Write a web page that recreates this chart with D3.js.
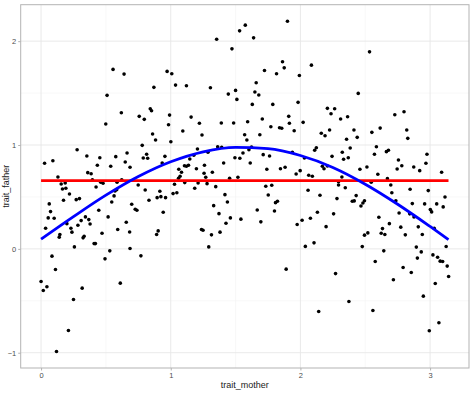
<!DOCTYPE html>
<html>
<head>
<meta charset="utf-8">
<script src="https://cdn.jsdelivr.net/npm/d3@7"></script>
<style>
  body { margin: 0; background: #fff; }
  #graph { width: 474px; height: 395px; }
  text { font-family: "Liberation Sans", Arial, sans-serif; }
</style>
</head>
<body>
<div id="graph"></div>
<script>
// scatter data
var motherX = [
0.555,0.640,0.509,0.619,0.499,1.354,1.531,1.472,0.972,1.008,0.870,1.037,1.121,1.306,1.444,1.500,1.510,0.842,0.852,0.757,
0.796,0.991,1.157,0.983,1.221,1.390,1.485,1.575,1.639,1.900,1.862,1.875,1.723,1.816,1.992,2.085,1.659,1.649,1.679,1.629,
1.787,1.982,2.208,2.264,2.236,2.310,2.364,1.593,1.706,1.910,1.915,2.021,2.533,2.446,2.728,2.799,0.278,0.027,0.091,0.353,
0.453,0.434,0.537,0.576,0.663,0.649,0.686,0.360,0.386,0.396,0.130,0.155,0.186,0.165,0.191,0.219,0.173,0.271,0.296,0.424,
0.460,0.478,0.586,0.622,0.570,0.583,0.563,0.545,0.063,0.073,0.055,0.101,0.035,0.199,0.230,0.238,0.284,0.309,0.342,0.368,
0.378,0.445,0.517,0.145,0.140,0.332,0.324,0.470,0.591,0.657,0.683,0.699,0.409,0.419,0.257,1.093,0.860,0.883,0.780,1.001,
1.241,0.788,0.814,0.822,0.955,0.934,1.206,1.178,1.147,1.137,1.121,1.106,1.062,1.083,1.072,1.060,1.287,1.362,1.393,1.260,
1.198,1.257,1.270,1.321,1.408,1.495,1.533,1.454,1.518,0.749,0.803,1.029,1.108,1.211,1.185,1.280,1.347,0.916,0.924,0.895,
0.960,1.018,1.047,0.832,0.726,0.739,0.942,1.418,1.437,1.331,1.372,1.460,1.426,1.541,1.237,1.249,1.380,1.314,0.903,0.891,
1.293,1.772,1.839,1.856,1.952,1.570,1.587,1.687,2.161,2.190,2.225,2.356,1.557,1.603,1.623,1.613,1.713,1.762,1.741,1.846,
1.882,1.938,2.031,1.998,1.967,2.064,2.092,2.110,2.123,2.169,2.182,2.208,2.244,2.323,2.333,2.384,2.369,2.320,2.294,2.294,
2.346,1.733,1.779,1.752,2.059,2.151,2.282,1.823,1.808,1.667,1.800,2.131,2.256,1.695,1.975,2.013,2.077,2.198,2.038,2.105,
2.413,2.438,2.551,2.615,2.820,2.828,2.586,2.571,2.663,2.679,2.756,2.782,2.746,2.874,2.920,2.976,2.968,3.089,2.459,2.513,
2.597,2.671,2.546,2.697,2.705,2.846,2.986,3.115,2.430,2.415,2.400,2.494,2.482,2.467,2.736,2.863,2.958,3.051,3.101,3.002,
3.012,2.761,2.843,2.876,2.605,2.686,2.633,2.774,2.909,3.032,2.520,2.494,2.623,2.651,2.809,2.940,2.477,2.894,3.124,0.084,
0.111,0.000,0.017,0.045,0.317,0.250,0.211,0.119,0.493,0.530,0.686,0.611,0.770,1.890,2.271,2.141,2.374,2.643,2.577,2.932,
2.902,3.022,3.058,3.078,3.097,3.132,3.143,2.792,2.855,2.717,3.040,2.948,2.559,3.068,2.994
]
var fatherY = [
1.728,1.683,1.478,1.311,1.202,2.019,2.099,1.926,1.709,1.686,1.555,1.577,1.570,1.551,1.490,1.526,1.439,1.349,1.330,1.276,
1.247,1.288,1.269,1.195,1.209,1.212,1.212,2.154,2.032,2.192,1.801,1.743,1.718,1.686,1.670,1.769,1.599,1.510,1.481,1.391,
1.391,1.411,1.353,1.349,1.301,1.250,1.272,1.224,1.250,1.276,1.209,1.218,1.897,1.497,1.291,1.320,0.955,0.824,0.849,0.894,
0.878,0.805,0.795,0.888,0.923,0.837,0.786,0.734,0.724,0.666,0.692,0.625,0.635,0.577,0.584,0.529,0.468,0.474,0.484,0.596,
0.641,0.632,0.641,0.666,0.558,0.570,0.510,0.452,0.433,0.359,0.298,0.295,0.199,0.243,0.199,0.161,0.228,0.272,0.308,0.282,
0.240,0.372,0.308,0.138,0.113,0.122,0.106,0.151,0.186,0.257,0.163,0.430,0.051,0.051,0.019,1.135,1.106,1.048,0.997,1.032,
1.096,0.875,0.911,0.872,0.891,0.827,0.962,0.901,0.865,0.805,0.795,0.801,0.766,0.738,0.699,0.680,0.930,0.984,0.978,0.805,
0.772,0.728,0.689,0.738,0.827,0.878,0.873,0.680,0.689,0.615,0.567,0.622,0.638,0.635,0.584,0.628,0.599,0.555,0.503,0.493,
0.493,0.532,0.541,0.468,0.382,0.372,0.353,0.522,0.452,0.416,0.339,0.298,0.247,0.286,0.186,0.180,0.161,0.135,0.173,0.138,
0.019,1.176,1.166,1.161,1.138,1.099,1.048,1.099,1.113,1.089,1.144,1.055,0.923,0.955,0.981,0.827,0.907,0.894,0.766,0.772,
0.786,0.930,0.875,0.753,0.721,0.709,0.699,0.949,0.974,0.795,0.772,0.798,0.891,0.930,0.863,0.971,0.878,0.692,0.647,0.615,
0.589,0.603,0.613,0.519,0.564,0.516,0.484,0.459,0.445,0.375,0.365,0.353,0.337,0.260,0.234,0.276,0.295,0.214,0.024,0.058,
1.144,1.074,1.122,1.163,1.144,1.064,0.984,0.911,0.936,0.949,0.856,0.801,0.769,0.788,0.753,0.911,0.824,0.738,0.766,0.788,
0.718,0.676,0.641,0.615,0.541,0.574,0.561,0.500,0.513,0.462,0.459,0.464,0.442,0.413,0.464,0.436,0.433,0.433,0.404,0.378,
0.356,0.346,0.337,0.308,0.305,0.243,0.195,0.209,0.212,0.199,0.154,0.132,0.151,0.138,0.135,0.138,0.022,0.017,0.023,-0.070,
-0.199,-0.314,-0.401,-0.365,-0.378,-0.488,-0.786,-0.988,-0.096,-0.019,0.003,-0.330,-0.067,-0.195,-0.238,-0.603,-0.507,-0.019,-0.122,-0.029,
-0.089,-0.058,-0.080,-0.118,-0.122,-0.166,-0.266,-0.180,-0.228,-0.298,-0.334,-0.455,-0.593,-0.712,-0.788
]

// fitted lines
var fitX = [0, 0.25, 0.5, 0.75, 1, 1.25, 1.5, 1.75, 2, 2.25, 2.5, 2.75, 3, 3.142]
var fitBlue = [0.093, 0.31, 0.517, 0.697, 0.839, 0.935, 0.978, 0.965, 0.899, 0.784, 0.623, 0.43, 0.216, 0.09]
var fitRed = 0.657

var xTicks = [0, 1, 2, 3]
var yTicks = [-1, 0, 1, 2]
var xMinor = [0.5, 1.5, 2.5]
var yMinor = [-0.5, 0.5, 1.5]

var data = motherX.map((d, i) => [d, fatherY[i]])

const width = 474, height = 395
const panel = { left: 20.7, right: 469, top: 4.7, bottom: 368 }

const svg = d3.select("#graph")
    .append("svg")
        .attr("width", width)
        .attr("height", height)

// ggplot style 5% expansion
var xe = d3.extent(motherX), ye = d3.extent(fatherY)
var xpad = (xe[1] - xe[0]) * 0.05, ypad = (ye[1] - ye[0]) * 0.05

const x = d3.scaleLinear().domain([xe[0] - xpad, xe[1] + xpad]).range([panel.left, panel.right])
const y = d3.scaleLinear().domain([ye[0] - ypad, ye[1] + ypad]).range([panel.bottom, panel.top])

// grid
const grid = svg.append("g")
grid.selectAll(".xminor").data(xMinor).enter().append("line")
    .attr("x1", d => x(d)).attr("x2", d => x(d))
    .attr("y1", panel.top).attr("y2", panel.bottom)
    .attr("stroke", "#f3f3f3").attr("stroke-width", 0.6)
grid.selectAll(".yminor").data(yMinor).enter().append("line")
    .attr("y1", d => y(d)).attr("y2", d => y(d))
    .attr("x1", panel.left).attr("x2", panel.right)
    .attr("stroke", "#f3f3f3").attr("stroke-width", 0.6)
grid.selectAll(".xmajor").data(xTicks).enter().append("line")
    .attr("x1", d => x(d)).attr("x2", d => x(d))
    .attr("y1", panel.top).attr("y2", panel.bottom)
    .attr("stroke", "#e6e6e6").attr("stroke-width", 0.9)
grid.selectAll(".ymajor").data(yTicks).enter().append("line")
    .attr("y1", d => y(d)).attr("y2", d => y(d))
    .attr("x1", panel.left).attr("x2", panel.right)
    .attr("stroke", "#e6e6e6").attr("stroke-width", 0.9)

// points
svg.append("g")
    .selectAll("circle")
    .data(data)
    .enter().append("circle")
        .attr("cx", d => x(d[0]))
        .attr("cy", d => y(d[1]))
        .attr("r", 1.8)
        .attr("fill", "#000")

// red flat fit
svg.append("line")
    .attr("x1", x(fitX[0])).attr("x2", x(fitX[fitX.length - 1]))
    .attr("y1", y(fitRed)).attr("y2", y(fitRed))
    .attr("stroke", "#ff0000").attr("stroke-width", 2.8)

// blue curve
const line = d3.line().x((d, i) => x(fitX[i])).y(d => y(d)).curve(d3.curveMonotoneX)
svg.append("path")
    .datum(fitBlue)
    .attr("fill", "none")
    .attr("stroke", "#0000ff")
    .attr("stroke-width", 2.8)
    .attr("d", line)

// panel border
svg.append("rect")
    .attr("x", panel.left).attr("y", panel.top)
    .attr("width", panel.right - panel.left).attr("height", panel.bottom - panel.top)
    .attr("fill", "none").attr("stroke", "#b3b3b3").attr("stroke-width", 1)

// axes
const xAxis = svg.append("g")
    .attr("transform", `translate(0, ${panel.bottom})`)
    .call(d3.axisBottom(x).tickValues(xTicks).tickSize(2.5).tickPadding(2).tickFormat(d3.format("d")))
const yAxis = svg.append("g")
    .attr("transform", `translate(${panel.left}, 0)`)
    .call(d3.axisLeft(y).tickValues(yTicks).tickSize(2.5).tickPadding(2).tickFormat(d3.format("d")))

svg.selectAll(".domain").remove()
svg.selectAll(".tick line").attr("stroke", "#b3b3b3")
svg.selectAll(".tick text")
    .attr("fill", "#4d4d4d")
    .style("font-size", "7.5px")
    .style("font-family", "Liberation Sans, Arial, sans-serif")

// titles
svg.append("text")
    .attr("x", (panel.left + panel.right) / 2)
    .attr("y", 388)
    .attr("text-anchor", "middle")
    .attr("fill", "#1a1a1a")
    .style("font-size", "9px")
    .text("trait_mother")

svg.append("text")
    .attr("transform", `translate(9, ${(panel.top + panel.bottom) / 2}) rotate(-90)`)
    .attr("text-anchor", "middle")
    .attr("fill", "#1a1a1a")
    .style("font-size", "9px")
    .text("trait_father")
</script>
</body>
</html>
